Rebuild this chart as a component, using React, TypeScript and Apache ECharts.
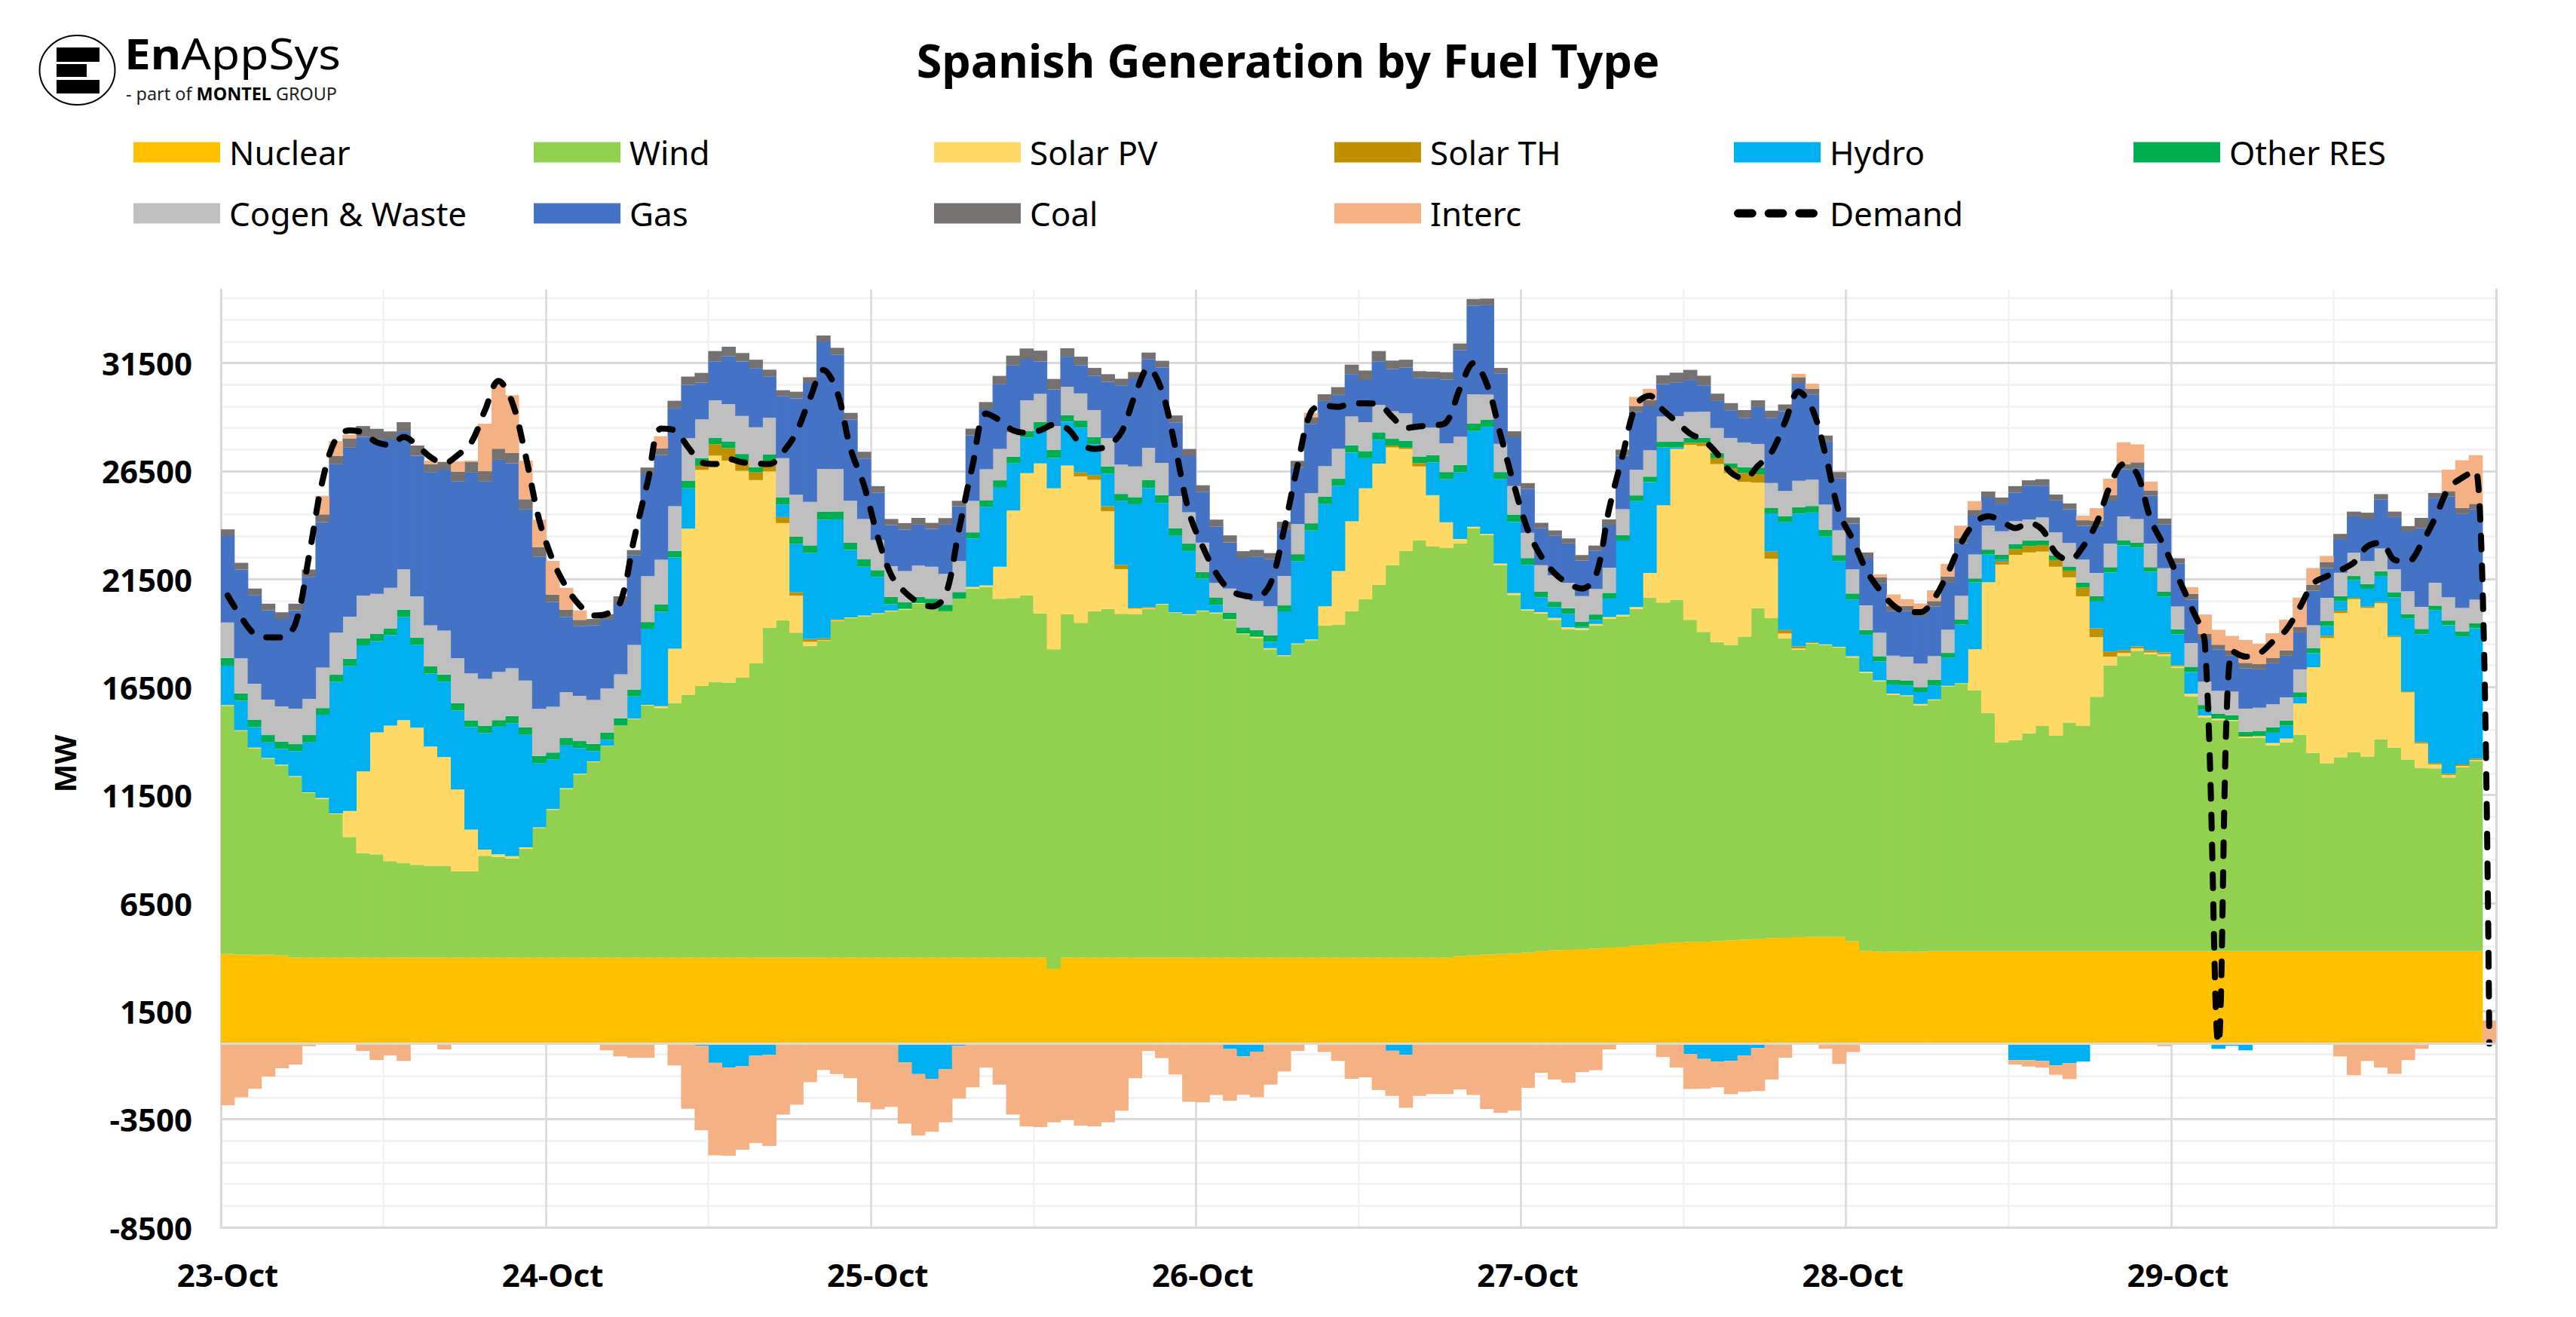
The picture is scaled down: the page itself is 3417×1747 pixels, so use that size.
import { useEffect, useRef } from "react";
import * as echarts from "echarts";

const FONT = "Noto Sans";

const dayLabels = ["23-Oct", "24-Oct", "25-Oct", "26-Oct", "27-Oct", "28-Oct", "29-Oct"];
const categories = dayLabels.flatMap((day) => Array.from({ length: 24 }, () => day));

const majorTicks = [-8500, -3500, 1500, 6500, 11500, 16500, 21500, 26500, 31500];
const minorTicks = [
  -7500, -6500, -5500, -4500, -2500, -1500, -500, 500, 2500, 3500, 4500, 5500, 7500, 8500, 9500, 10500, 12500, 13500,
  14500, 15500, 17500, 18500, 19500, 20500, 22500, 23500, 24500, 25500, 27500, 28500, 29500, 30500, 32500, 33500, 34500,
];

// MW per hour, one row per day
const nuclear = [
  4150, 4120, 4100, 4110, 4080, 3980, 3980, 3980, 3980, 3980, 3980, 3980, 3980, 3980, 3980, 3980, 3980, 3980, 3980, 3980, 3980, 3980, 3980, 3980,
  3980, 3980, 3980, 3980, 3980, 3980, 3980, 3980, 3980, 3980, 3980, 3980, 3980, 3980, 3980, 3980, 3980, 3980, 3980, 3980, 3980, 3980, 3980, 3980,
  3980, 3980, 3980, 3980, 3980, 3980, 3980, 3980, 3980, 3980, 3980, 3980, 3980, 3470, 3980, 3980, 3980, 3980, 3980, 3980, 3980, 3980, 3980, 3980,
  3980, 3980, 3980, 3980, 3980, 3980, 3980, 3980, 3980, 3980, 3980, 3980, 3980, 3980, 3980, 3980, 3980, 3980, 3980, 4040, 4080, 4110, 4140, 4170,
  4220, 4280, 4320, 4340, 4370, 4390, 4440, 4480, 4540, 4570, 4650, 4690, 4710, 4720, 4750, 4780, 4810, 4840, 4890, 4900, 4930, 4940, 4940, 4940,
  4740, 4290, 4250, 4250, 4250, 4250, 4280, 4280, 4280, 4280, 4280, 4280, 4280, 4280, 4280, 4280, 4280, 4280, 4280, 4280, 4280, 4280, 4280, 4280,
  4280, 4280, 4280, 4280, 4280, 4280, 4280, 4280, 4280, 4280, 4280, 4280, 4280, 4280, 4280, 4280, 4280, 4280, 4280, 4280, 4280, 4280, 4280, 0,
];
const wind = [
  11480, 10350, 9570, 9080, 8800, 8370, 7620, 7340, 6640, 5580, 4840, 4780, 4470, 4370, 4290, 4250, 4250, 3990, 3990, 4710, 4660, 4590, 5030, 6000,
  6840, 7810, 8480, 9050, 9780, 10740, 11030, 11670, 11550, 11780, 12170, 12570, 12760, 12730, 12950, 13620, 15270, 15610, 15040, 14430, 14660, 15570, 15710, 15800,
  15910, 16030, 16110, 16380, 16330, 16030, 16610, 17080, 17150, 16610, 16640, 16760, 15940, 14780, 15880, 15490, 16030, 16140, 15910, 15880, 16140, 16340, 15950, 15860,
  16030, 15940, 15630, 14970, 14790, 14270, 13960, 14510, 14690, 15360, 15410, 16030, 16580, 17250, 18170, 18820, 19300, 19020, 18950, 19120, 19760, 19420, 18000, 16590,
  15830, 15630, 15290, 14840, 14780, 14950, 15220, 15280, 15580, 16060, 15760, 15850, 14900, 14330, 13830, 13670, 14020, 15310, 14820, 13850, 13310, 13570, 13510, 13390,
  13130, 12870, 12530, 11900, 11840, 11390, 11620, 12250, 12370, 12080, 11020, 9660, 9770, 10080, 10420, 9970, 10580, 10420, 11770, 13220, 13660, 13900, 13740, 13660,
  13120, 11800, 10800, 10690, 10660, 9860, 9880, 9520, 9670, 10020, 9170, 8690, 8970, 9200, 9010, 9810, 9420, 8870, 8480, 8460, 8040, 8510, 8800, 0,
];
const solarPv = [
  40, 30, 30, 30, 30, 30, 30, 50, 30, 1210, 3780, 5640, 6270, 6620, 6350, 5520, 5030, 3790, 1930, 290, 120, 100, 70, 30,
  30, 30, 30, 30, 20, 0, 30, 30, 90, 2520, 7680, 10000, 10470, 10270, 9580, 8480, 7230, 4500, 1710, 190, 30, 40, 30, 30,
  30, 30, 30, 30, 0, 0, 0, 80, 80, 1480, 4050, 5660, 6930, 7450, 6890, 6780, 6080, 4520, 2070, 270, 30, 30, 30, 30,
  30, 30, 30, 30, 60, 50, 30, 30, 30, 900, 2480, 4160, 5140, 5610, 5440, 4720, 3430, 2380, 1200, 190, 80, 60, 80, 90,
  50, 60, 90, 90, 80, 80, 80, 90, 80, 1150, 4500, 6980, 8100, 8600, 8240, 7950, 7170, 5810, 2730, 230, 50, 30, 30, 30,
  60, 50, 30, 50, 30, 80, 30, 30, 30, 1890, 6050, 8230, 8570, 8370, 8070, 7820, 6720, 6000, 2760, 410, 140, 110, 80, 80,
  60, 110, 100, 70, 40, 70, 70, 110, 170, 1440, 3970, 5800, 6680, 7090, 6870, 6290, 5110, 3110, 1130, 180, 110, 60, 40, 0,
];
const solarTh = [
  0, 0, 0, 0, 0, 0, 0, 0, 0, 0, 0, 0, 0, 0, 0, 0, 0, 0, 0, 0, 0, 0, 0, 0,
  0, 0, 0, 0, 0, 0, 0, 0, 0, 0, 0, 190, 530, 580, 470, 360, 420, 280, 170, 130, 90, 40, 0, 0,
  0, 0, 0, 0, 0, 0, 0, 0, 0, 0, 0, 0, 0, 0, 0, 190, 220, 230, 190, 50, 50, 0, 0, 0,
  0, 0, 0, 0, 0, 0, 0, 0, 0, 0, 0, 0, 0, 0, 90, 60, 160, 0, 0, 0, 0, 0, 0, 0,
  0, 0, 0, 0, 0, 0, 0, 0, 0, 0, 0, 0, 90, 160, 270, 230, 410, 390, 340, 160, 90, 30, 0, 0,
  0, 0, 0, 0, 0, 0, 0, 0, 0, 0, 0, 170, 270, 300, 300, 310, 310, 400, 410, 240, 130, 90, 110, 80,
  50, 0, 0, 0, 0, 0, 0, 0, 0, 0, 0, 110, 100, 60, 60, 60, 60, 40, 60, 60, 60, 70, 70, 0,
];
const hydro = [
  1820, 1370, 950, 720, 730, 1150, 2310, 3850, 6090, 6700, 5830, 4220, 4190, 4770, 3830, 3370, 3490, 3650, 4750, 5390, 5910, 6150, 5210, 2960,
  2290, 1980, 1180, 480, 280, 0, 1030, 3520, 4360, 4220, 1870, -100, -890, -1110, -1050, -560, -520, 580, 2230, 3970, 5480, 4630, 3130, 2260,
  1680, 300, -860, -1410, -1630, -1190, -100, 2240, 3630, 3660, 2180, 1640, 1600, 1400, 2030, 2070, 1430, 1510, 2960, 4780, 5520, 4670, 3540, 2930,
  1480, 360, -250, -590, -370, 300, 2030, 3800, 5050, 4740, 3940, 3180, 1390, 1110, -330, -520, 0, 1510, 1990, 3090, 4430, 4950, 3900, 3290,
  2060, 690, 500, 620, 50, 190, 860, 3430, 4910, 4210, 2680, 80, -480, -710, -830, -800, -550, -210, 1760, 4990, 6150, 6010, 4990, 3970,
  2620, 1710, 870, 420, 440, 550, 650, 1290, 2710, 3090, 1280, 50, -760, -760, -800, -1010, -910, -830, 1240, 3660, 4850, 4580, 3620, 2590,
  1430, 1010, 280, -240, -100, -310, 0, 480, 590, 280, 650, 440, 440, 830, 830, 1200, 1780, 3370, 5000, 7080, 6870, 5920, 6030, 0,
];
const otherRes = [
  360, 340, 330, 340, 330, 330, 340, 310, 330, 340, 330, 340, 310, 340, 330, 340, 330, 340, 310, 340, 300, 340, 340, 340,
  330, 340, 330, 330, 340, 340, 310, 310, 340, 300, 340, 360, 300, 310, 310, 230, 360, 330, 340, 360, 370, 370, 340, 340,
  310, 330, 300, 280, 280, 300, 310, 280, 310, 340, 310, 300, 310, 370, 310, 330, 330, 330, 330, 330, 370, 360, 340, 340,
  300, 340, 310, 280, 310, 300, 280, 330, 330, 330, 330, 330, 330, 340, 310, 310, 300, 340, 330, 340, 340, 340, 330, 340,
  310, 250, 250, 260, 250, 250, 260, 250, 260, 250, 260, 260, 230, 230, 250, 230, 260, 310, 260, 280, 300, 300, 310, 280,
  280, 220, 250, 220, 250, 230, 250, 230, 230, 190, 230, 230, 230, 250, 220, 220, 190, 240, 240, 240, 240, 230, 220, 220,
  230, 240, 210, 220, 220, 210, 240, 250, 240, 240, 240, 250, 240, 180, 220, 220, 240, 210, 240, 210, 220, 240, 240, 0,
];
const cogenWaste = [
  1640, 1620, 1670, 1640, 1640, 1640, 1680, 1870, 1950, 1950, 1980, 1850, 1870, 1870, 1920, 1900, 2030, 2090, 2170, 2170, 2230, 2210, 2170, 2180,
  2120, 2120, 2100, 2030, 2040, 2030, 2070, 2120, 2070, 2070, 1980, 1790, 1730, 1730, 1760, 1850, 1700, 1810, 1930, 2010, 1990, 1960, 1930, 1870,
  1400, 1430, 1450, 1450, 1480, 1430, 1430, 1450, 1430, 1450, 1140, 1430, 1310, 1110, 1310, 1250, 1250, 1310, 1360, 1420, 1480, 1500, 1500, 1450,
  1370, 670, 1110, 1400, 1340, 1340, 1360, 1390, 1390, 1420, 1390, 1340, 1340, 1260, 1280, 1280, 1360, 1280, 1320, 1310, 1360, 1150, 1310, 1320,
  1170, 1230, 1230, 1180, 1180, 1180, 1170, 1200, 1180, 1220, 1170, 1180, 1200, 1200, 1150, 1170, 1150, 1090, 1140, 1170, 1220, 1220, 1170, 1140,
  1120, 1140, 1090, 1110, 1090, 1090, 1110, 1080, 1110, 1110, 1120, 1090, 1060, 980, 1060, 1060, 1090, 1060, 1080, 1080, 1100, 1090, 1090, 1090,
  1060, 1100, 1080, 1060, 1090, 1080, 1080, 1060, 1080, 1060, 1050, 1060, 1080, 1080, 1060, 1060, 1060, 1060, 1020, 1060, 1080, 1080, 1080, 0,
];
const gas = [
  4000, 4110, 4110, 4130, 4040, 4550, 5640, 6730, 7810, 7840, 7340, 7170, 6870, 6360, 6510, 7090, 7450, 8180, 9300, 9130, 9820, 9490, 7920, 7040,
  4850, 3490, 3230, 3470, 3180, 3330, 4160, 4720, 4850, 4520, 2460, 1700, 1810, 2210, 2520, 2740, 1920, 2880, 4460, 5500, 5890, 5300, 3760, 2800,
  2180, 1900, 1920, 1900, 1750, 2280, 2540, 3040, 2770, 2990, 3090, 1920, 1500, 1700, 1390, 1310, 1590, 2600, 3660, 4070, 4100, 4410, 3400, 2600,
  2340, 2600, 2130, 1820, 2060, 2180, 2180, 2620, 3210, 3010, 2490, 1960, 1950, 2030, 1950, 2120, 2280, 2280, 2960, 4000, 4100, 4140, 3260, 2260,
  2030, 1710, 1820, 1820, 1650, 1780, 1950, 2480, 2680, 2030, 1500, 1560, 1480, 1220, 1250, 1280, 1140, 1710, 3020, 3690, 4520, 3940, 2910, 2420,
  2120, 2200, 2280, 2070, 2120, 2200, 2290, 2170, 2430, 1790, 1290, 1280, 1320, 1560, 1470, 1480, 1560, 1560, 2180, 2000, 2180, 2340, 2210, 2030,
  1980, 2000, 1960, 1930, 1660, 1880, 1770, 1900, 1920, 1710, 1600, 1380, 1560, 1680, 1960, 2260, 2420, 2760, 3640, 3910, 4660, 4350, 4180, 0,
];
const coal = [
  310, 310, 300, 310, 310, 310, 340, 360, 360, 410, 500, 470, 370, 450, 470, 370, 360, 450, 500, 480, 510, 470, 470, 440,
  340, 330, 280, 280, 250, 280, 230, 310, 310, 360, 390, 450, 470, 440, 390, 390, 310, 270, 310, 270, 280, 310, 310, 310,
  310, 280, 300, 310, 280, 300, 250, 310, 340, 390, 450, 480, 500, 480, 390, 390, 360, 360, 310, 300, 310, 310, 330, 330,
  310, 330, 330, 310, 310, 280, 330, 310, 310, 310, 360, 440, 440, 470, 390, 360, 310, 310, 340, 310, 310, 310, 250, 280,
  270, 250, 250, 230, 250, 230, 280, 280, 280, 300, 410, 450, 470, 450, 340, 330, 360, 310, 330, 310, 270, 270, 280, 280,
  280, 250, 280, 230, 230, 270, 250, 280, 230, 270, 280, 280, 300, 250, 300, 270, 270, 260, 240, 250, 240, 280, 250, 270,
  250, 280, 250, 210, 240, 240, 240, 240, 250, 260, 280, 280, 240, 220, 280, 250, 250, 250, 480, 240, 250, 280, 260, 0,
];
const interc = [
  -2850, -2480, -2090, -1520, -1140, -970, -120, 860, 690, 170, -340, -760, -550, -800, 0, 160, -270, 470, 50, 2200, 3090, 2680, 1790, 1280,
  1560, 1010, 440, -30, -310, -590, -650, -650, 560, -1010, -3010, -3910, -4280, -4080, -3860, -4040, -4220, -3280, -2820, -1780, -1220, -1410, -1600, -2720,
  -3040, -2930, -2840, -2840, -2450, -2450, -2440, -2020, -1110, -1900, -3280, -3830, -3860, -3640, -3530, -3790, -3830, -3640, -3100, -1600, -340, -670, -1430, -2690,
  -2720, -2380, -2390, -1780, -2110, -1900, -1290, -340, 200, -390, -800, -1630, -1560, -2150, -2090, -2450, -2420, -2330, -2330, -2120, -2380, -3020, -3210, -3100,
  -2050, -1350, -1660, -1810, -1320, -1230, -270, 0, 420, 510, -620, -1110, -1620, -1380, -1190, -1540, -1680, -1980, -1660, -650, 160, 230, -240, -940,
  -390, 0, 140, 540, 310, 310, 500, 590, 580, 410, 0, -30, -210, -300, -310, -430, -730, 210, 580, 760, 1010, 830, 410, -120,
  0, 300, 900, 690, 680, 1060, 950, 1150, 1420, 1350, 770, 280, -590, -1460, -800, -1110, -1400, -760, -240, 0, 990, 2210, 2250, 1070,
];
const demand = [
  20740, 19730, 18950, 18800, 18800, 19420, 22540, 26040, 27990, 28380, 28270, 27830, 27710, 28070, 27680, 27130, 26870, 27240, 27830, 29310, 30670, 29700, 27210, 24250,
  22380, 21130, 20280, 19810, 19890, 20430, 23320, 25960, 28460, 28380, 27600, 26900, 26820, 27050, 26900, 26850, 26820, 27370, 28300, 29860, 31180, 30170, 27520, 25810,
  23470, 21680, 20900, 20430, 20230, 20740, 23780, 26740, 29160, 28850, 28380, 28270, 28380, 28640, 28460, 27760, 27520, 27680, 28300, 30010, 31260, 30170, 27520, 24560,
  23000, 21760, 20980, 20740, 20670, 21290, 23780, 26740, 29240, 29520, 29470, 29630, 29630, 29580, 29000, 28490, 28570, 28610, 28770, 30330, 31500, 30480, 28150, 25810,
  23780, 22540, 21760, 21290, 21060, 21600, 24720, 27210, 29550, 29980, 29310, 28770, 28220, 27910, 27290, 26430, 26150, 26740, 27370, 28770, 30170, 29390, 27210, 24560,
  23320, 21910, 20980, 20280, 19970, 19970, 20590, 21760, 23160, 24090, 24410, 24170, 23860, 24090, 23780, 22690, 22380, 23000, 24090, 25810, 26820, 26350, 24250, 23000,
  21600, 20200, 18530, 0, 18180, 17910, 18050, 18600, 19150, 20180, 21290, 21630, 21910, 22260, 23010, 23180, 22390, 22320, 23150, 24330, 25700, 26190, 26530, 0,
];

const stacks = [
  { name: "Nuclear", values: nuclear, color: "#FFC000" },
  { name: "Wind", values: wind, color: "#92D050" },
  { name: "Solar PV", values: solarPv, color: "#FFD966" },
  { name: "Solar TH", values: solarTh, color: "#BF9000" },
  { name: "Hydro", values: hydro, color: "#00B0F0" },
  { name: "Other RES", values: otherRes, color: "#00B050" },
  { name: "Cogen & Waste", values: cogenWaste, color: "#BFBFBF" },
  { name: "Gas", values: gas, color: "#4472C4" },
  { name: "Coal", values: coal, color: "#767171" },
  { name: "Interc", values: interc, color: "#F4B183" },
];

const legendColumns = [177, 708, 1239, 1770, 2300, 2830];
const legendRows = [180, 261];
const legendOrder = ["Nuclear", "Wind", "Solar PV", "Solar TH", "Hydro", "Other RES", "Cogen & Waste", "Gas", "Coal", "Interc", "Demand"];

// three round dashes for the Demand key
const DEMAND_ICON =
  "path://M5 0H24A5.5 5.5 0 0 1 24 11H5A5.5 5.5 0 0 1 5 0ZM46 0H65A5.5 5.5 0 0 1 65 11H46A5.5 5.5 0 0 1 46 0ZM87 0H106A5.5 5.5 0 0 1 106 11H87A5.5 5.5 0 0 1 87 0Z";

const GRID_LINE = "#D9D9D9";
const MINOR_LINE = "#F2F2F2";
const Y_MIN = -8500;
const Y_MAX = 34900;

function buildOption() {
  const hiddenAxis = { axisLabel: { show: false }, axisTick: { show: false } };
  return {
    animation: false,
    backgroundColor: "#fff",
    textStyle: { fontFamily: FONT },
    title: {
      text: "Spanish Generation by Fuel Type",
      left: "center",
      top: 44,
      textStyle: { fontFamily: FONT, fontSize: 61, fontWeight: "bold", color: "#000" },
    },
    legend: legendOrder.map((name, i) => ({
      data: [name === "Demand" ? { name, icon: DEMAND_ICON } : { name, icon: "rect" }],
      left: legendColumns[i % 6],
      top: legendRows[Math.floor(i / 6)],
      padding: 0,
      itemWidth: name === "Demand" ? 111 : 115,
      itemHeight: name === "Demand" ? 11 : 27,
      selectedMode: false,
      textStyle: { fontFamily: FONT, fontSize: 44, color: "#000", padding: [0, 0, 0, name === "Demand" ? 11 : 7] },
    })),
    grid: { left: 293, top: 384, width: 3018, height: 1244 },
    xAxis: [
      {
        type: "category",
        data: categories,
        position: "bottom",
        axisLine: { onZero: false, lineStyle: { color: GRID_LINE, width: 3 } },
        axisTick: { show: false },
        axisLabel: {
          interval: 23,
          margin: 41,
          fontFamily: FONT,
          fontSize: 42,
          fontWeight: "bold",
          color: "#000",
        },
        splitLine: {
          show: true,
          interval: (index: number) => index % 24 === 0,
          lineStyle: { color: GRID_LINE, width: 2.5 },
        },
        z: 1,
      },
      {
        // noon lines
        type: "category",
        data: categories,
        ...hiddenAxis,
        axisLine: { show: false },
        splitLine: {
          show: true,
          interval: (index: number) => index % 24 === 12,
          lineStyle: { color: MINOR_LINE, width: 2.5 },
        },
      },
      {
        // zero line, drawn over the bars
        type: "category",
        data: categories,
        ...hiddenAxis,
        axisLine: { show: true, onZero: true, lineStyle: { color: GRID_LINE, width: 3 } },
        splitLine: { show: false },
        z: 5,
      },
    ],
    yAxis: [
      {
        type: "value",
        min: Y_MIN,
        max: Y_MAX,
        position: "left",
        name: "MW",
        nameLocation: "middle",
        nameGap: 188,
        nameRotate: 90,
        nameTextStyle: { fontFamily: FONT, fontSize: 40, fontWeight: "bold", color: "#000", padding: [0, 14, 0, 0] },
        axisLine: { show: true, onZero: false, lineStyle: { color: GRID_LINE, width: 3 } },
        axisTick: { show: false, customValues: majorTicks },
        axisLabel: {
          customValues: majorTicks,
          formatter: (value: number) => String(value),
          margin: 38,
          fontFamily: FONT,
          fontSize: 42,
          fontWeight: "bold",
          color: "#000",
        },
        splitLine: { show: true, lineStyle: { color: GRID_LINE, width: 3 } },
        z: 1,
      },
      {
        type: "value",
        min: Y_MIN,
        max: Y_MAX,
        position: "right",
        axisLine: { show: true, onZero: false, lineStyle: { color: GRID_LINE, width: 3 } },
        axisTick: { show: false, customValues: minorTicks },
        axisLabel: { show: false },
        splitLine: { show: true, lineStyle: { color: MINOR_LINE, width: 3 } },
      },
    ],
    series: [
      ...stacks.map((s) => ({
        name: s.name,
        type: "bar",
        stack: "generation",
        data: s.values,
        // slightly over 100% so neighbouring columns leave no hairline
        barWidth: "104%",
        itemStyle: { color: s.color },
        emphasis: { disabled: true },
      })),
      {
        name: "Demand",
        type: "line",
        data: demand,
        smooth: 0.35,
        showSymbol: false,
        symbol: "none",
        z: 4,
        itemStyle: { color: "#000" },
        lineStyle: { color: "#000", width: 8, type: [18, 21.5], cap: "round" },
      },
    ],
    graphic: [
      {
        type: "ellipse",
        shape: { cx: 102.5, cy: 93, rx: 50, ry: 46 },
        style: { fill: "#fff", stroke: "#000", lineWidth: 2 },
      },
      { type: "rect", shape: { x: 75, y: 63, width: 57, height: 19 }, style: { fill: "#000" } },
      { type: "rect", shape: { x: 75, y: 85, width: 40, height: 17 }, style: { fill: "#000" } },
      { type: "rect", shape: { x: 75, y: 106, width: 57, height: 18 }, style: { fill: "#000" } },
      {
        type: "text",
        x: 165,
        y: 42,
        scaleX: 1.11,
        style: {
          text: "{a|En}{b|AppSys}",
          rich: {
            a: { fontFamily: FONT, fontSize: 56, fontWeight: "bold", fill: "#000" },
            b: { fontFamily: FONT, fontSize: 56, fill: "#000" },
          },
        },
      },
      {
        type: "text",
        x: 167,
        y: 112,
        style: {
          text: "{a|- part of }{b|MONTEL}{a| GROUP}",
          rich: {
            a: { fontFamily: FONT, fontSize: 23.4, fill: "#222" },
            b: { fontFamily: FONT, fontSize: 23.4, fontWeight: "bold", fill: "#000" },
          },
        },
      },
    ],
  };
}

export default function App() {
  const containerRef = useRef<HTMLDivElement>(null);

  useEffect(() => {
    const container = containerRef.current;
    if (!container) return;
    document.body.style.margin = "0";
    const chart = echarts.init(container, undefined, { renderer: "svg" });
    chart.setOption(buildOption());
    return () => {
      chart.dispose();
    };
  }, []);

  return <div ref={containerRef} style={{ position: "absolute", left: 0, top: 0, width: 3417, height: 1747 }} />;
}
